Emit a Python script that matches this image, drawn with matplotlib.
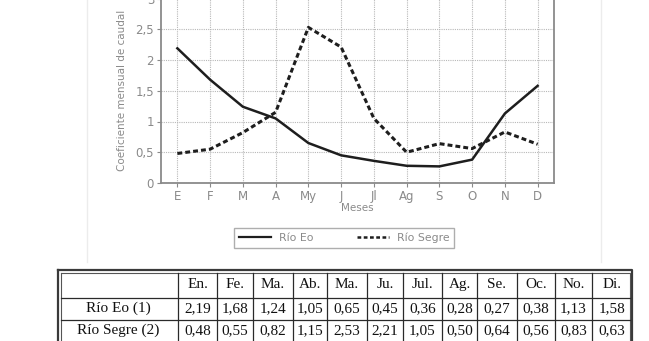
import matplotlib
matplotlib.use("Agg")
import matplotlib.pyplot as plt
from matplotlib.lines import Line2D

months_axis = ["E", "F", "M", "A", "My", "J", "Jl", "Ag", "S", "O", "N", "D"]
months_table = ["En.", "Fe.", "Ma.", "Ab.", "Ma.", "Ju.", "Jul.", "Ag.", "Se.", "Oc.", "No.", "Di."]
rio_eo = [2.19, 1.68, 1.24, 1.05, 0.65, 0.45, 0.36, 0.28, 0.27, 0.38, 1.13, 1.58]
rio_segre = [0.48, 0.55, 0.82, 1.15, 2.53, 2.21, 1.05, 0.50, 0.64, 0.56, 0.83, 0.63]
series_names = ["Río Eo", "Río Segre"]
row_labels = ["Río Eo (1)", "Río Segre (2)"]
yticks = [0, 0.5, 1, 1.5, 2, 2.5, 3]
ytick_labels = ["0", "0,5", "1", "1,5", "2", "2,5", "3"]

W, H = 649, 341
fig = plt.figure(figsize=(W / 100, H / 100), dpi=100)
fig.patch.set_facecolor("white")

def fx(px):
    return px / W

def fy(py):
    return 1 - py / H

gray = "#8a8a8a"
line_col = "#1e1e1e"

# faint image borders
bg = fig.add_axes([0, 0, 1, 1], zorder=-5)
bg.set_xlim(0, W); bg.set_ylim(H, 0); bg.axis("off")
bg.plot([87, 87], [0, 262], color="#ececec", lw=1)
bg.plot([601, 601], [0, 262], color="#ececec", lw=1)

# main chart
left, right, ybot, ytop = 161, 554, 183, -1.5
ax = fig.add_axes([fx(left), fy(ybot), (right - left) / W, (ybot - ytop) / H])
x = list(range(len(months_axis)))
ax.plot(x, rio_eo, color=line_col, lw=1.8, solid_joinstyle="round")
ax.plot(x, rio_segre, color=line_col, lw=2.2, linestyle=(0, (1.6, 1.0)))
ax.set_xlim(-0.5, 11.5)
ax.set_ylim(0, 3)
ax.set_xticks(x)
ax.set_xticklabels(months_axis)
ax.set_yticks(yticks)
ax.set_yticklabels(ytick_labels)
ax.grid(True, color="#b8b8b8", linestyle=(0, (1, 1)), lw=0.8)
ax.set_axisbelow(True)
for s in ax.spines.values():
    s.set_color("#8a8a8a")
    s.set_linewidth(1.3)
ax.tick_params(axis="both", colors="#8a8a8a", labelcolor=gray, labelsize=8.5,
               length=3, width=0.8)
ax.tick_params(axis="x", pad=2)
ax.tick_params(axis="y", pad=2)
for lab in ax.get_xticklabels() + ax.get_yticklabels():
    lab.set_family("DejaVu Sans")
ax.set_xlabel("Meses", fontsize=7.5, color=gray, labelpad=0)
ax.set_ylabel("Coeficiente mensual de caudal", fontsize=7.5, color=gray, labelpad=6)

# legend
handles = [Line2D([], [], color=line_col, lw=1.6),
           Line2D([], [], color=line_col, lw=1.8, linestyle=(0, (1.5, 1.0)))]
leg = fig.legend(handles, series_names, loc="center",
                 bbox_to_anchor=(fx(344), fy(238)), ncol=2, frameon=True,
                 fontsize=7.8, fancybox=False, edgecolor="#9a9a9a",
                 handlelength=3.0, columnspacing=4.0, borderpad=0.4,
                 handletextpad=0.7)
leg.get_frame().set_linewidth(1.0)
for t in leg.get_texts():
    t.set_color(gray)

# table
tab = fig.add_axes([0, 0, 1, 1])
tab.set_xlim(0, W); tab.set_ylim(H, 0); tab.axis("off")
col_edges = [58, 178, 217, 253, 293, 327, 367, 403, 442, 477, 517, 555, 592, 632]
row_edges = [270, 297.5, 319.5, 344]
tcol = "#2a2a2a"
serif = "Liberation Serif"
# outer double border
tab.plot([58, 632, 632, 58, 58], [270, 270, 344, 344, 270], color="#3a3a3a", lw=1.6)
tab.plot([60.5, 629.5, 629.5, 60.5, 60.5], [272.5, 272.5, 344, 344, 272.5],
         color="#555555", lw=0.8)
for xe in col_edges[1:-1]:
    tab.plot([xe, xe], [272.5, 344], color=tcol, lw=0.9)
for ye in row_edges[1:-1]:
    tab.plot([60.5, 629.5], [ye, ye], color=tcol, lw=0.9)

def cx(i):
    return (col_edges[i] + col_edges[i + 1]) / 2

hdr_y, r1_y, r2_y = 284.5, 308.5, 330.5
fs = 11
for i, m in enumerate(months_table):
    tab.text(cx(i + 1), hdr_y, m, ha="center", va="center", fontsize=fs,
             family=serif, color="#111111")
for j, (lab, vals, yy) in enumerate(zip(row_labels, [rio_eo, rio_segre], [r1_y, r2_y])):
    tab.text(cx(0), yy, lab, ha="center", va="center", fontsize=fs,
             family=serif, color="#111111")
    for i, v in enumerate(vals):
        tab.text(cx(i + 1), yy, f"{v:.2f}".replace(".", ","), ha="center",
                 va="center", fontsize=fs, family=serif, color="#111111")

fig.savefig("out.png", dpi=100, facecolor="white")
